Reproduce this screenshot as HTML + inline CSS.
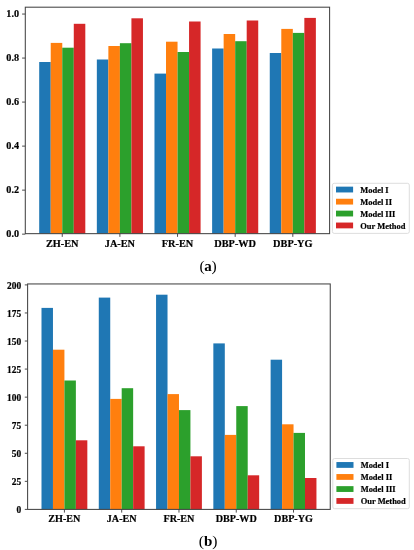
<!DOCTYPE html>
<html lang="en">
<head>
<meta charset="utf-8">
<title>Figure</title>
<style>
html,body{margin:0;padding:0;background:#fff;}
body{width:414px;height:550px;overflow:hidden;font-family:"Liberation Serif",serif;}
svg{display:block;}
svg text{font-family:"Liberation Serif",serif;fill:#000;}
svg text.b{stroke:#000;stroke-width:0.2px;}
</style>
</head>
<body>
<svg width="414" height="550" viewBox="0 0 414 550">
<rect x="0" y="0" width="414" height="550" fill="#ffffff"/>
<g id="chart-a">
<rect x="39.20" y="62.00" width="11.53" height="171.65" fill="#1f77b4"/>
<rect x="50.73" y="42.90" width="11.53" height="190.75" fill="#ff7f0e"/>
<rect x="62.26" y="47.70" width="11.53" height="185.95" fill="#2ca02c"/>
<rect x="73.78" y="23.80" width="11.53" height="209.85" fill="#d62728"/>
<rect x="96.84" y="59.50" width="11.53" height="174.15" fill="#1f77b4"/>
<rect x="108.37" y="46.00" width="11.53" height="187.65" fill="#ff7f0e"/>
<rect x="119.90" y="43.20" width="11.53" height="190.45" fill="#2ca02c"/>
<rect x="131.42" y="18.30" width="11.53" height="215.35" fill="#d62728"/>
<rect x="154.48" y="73.60" width="11.53" height="160.05" fill="#1f77b4"/>
<rect x="166.01" y="41.70" width="11.53" height="191.95" fill="#ff7f0e"/>
<rect x="177.54" y="52.00" width="11.53" height="181.65" fill="#2ca02c"/>
<rect x="189.06" y="21.50" width="11.53" height="212.15" fill="#d62728"/>
<rect x="212.12" y="48.50" width="11.53" height="185.15" fill="#1f77b4"/>
<rect x="223.65" y="34.00" width="11.53" height="199.65" fill="#ff7f0e"/>
<rect x="235.18" y="41.20" width="11.53" height="192.45" fill="#2ca02c"/>
<rect x="246.70" y="20.50" width="11.53" height="213.15" fill="#d62728"/>
<rect x="269.76" y="53.00" width="11.53" height="180.65" fill="#1f77b4"/>
<rect x="281.29" y="28.90" width="11.53" height="204.75" fill="#ff7f0e"/>
<rect x="292.82" y="32.90" width="11.53" height="200.75" fill="#2ca02c"/>
<rect x="304.34" y="17.90" width="11.53" height="215.75" fill="#d62728"/>
<rect x="25.30" y="7.20" width="304.30" height="226.45" fill="none" stroke="#444" stroke-width="1.05"/>
<line x1="22.10" y1="234.15" x2="25.30" y2="234.15" stroke="#4a4a4a" stroke-width="1"/>
<text class="b" transform="translate(19.10 237.30) scale(1.0 1.0)" text-anchor="end" font-size="10.2" font-weight="bold">0.0</text>
<line x1="22.10" y1="190.13" x2="25.30" y2="190.13" stroke="#4a4a4a" stroke-width="1"/>
<text class="b" transform="translate(19.10 193.28) scale(1.0 1.0)" text-anchor="end" font-size="10.2" font-weight="bold">0.2</text>
<line x1="22.10" y1="146.11" x2="25.30" y2="146.11" stroke="#4a4a4a" stroke-width="1"/>
<text class="b" transform="translate(19.10 149.26) scale(1.0 1.0)" text-anchor="end" font-size="10.2" font-weight="bold">0.4</text>
<line x1="22.10" y1="102.09" x2="25.30" y2="102.09" stroke="#4a4a4a" stroke-width="1"/>
<text class="b" transform="translate(19.10 105.24) scale(1.0 1.0)" text-anchor="end" font-size="10.2" font-weight="bold">0.6</text>
<line x1="22.10" y1="58.07" x2="25.30" y2="58.07" stroke="#4a4a4a" stroke-width="1"/>
<text class="b" transform="translate(19.10 61.22) scale(1.0 1.0)" text-anchor="end" font-size="10.2" font-weight="bold">0.8</text>
<line x1="22.10" y1="14.05" x2="25.30" y2="14.05" stroke="#4a4a4a" stroke-width="1"/>
<text class="b" transform="translate(19.10 17.20) scale(1.0 1.0)" text-anchor="end" font-size="10.2" font-weight="bold">1.0</text>
<line x1="62.26" y1="233.65" x2="62.26" y2="236.85" stroke="#3a3a3a" stroke-width="0.9"/>
<text x="62.26" y="247.30" text-anchor="middle" font-size="10.3" font-weight="bold" class="b">ZH-EN</text>
<line x1="119.90" y1="233.65" x2="119.90" y2="236.85" stroke="#3a3a3a" stroke-width="0.9"/>
<text x="119.90" y="247.30" text-anchor="middle" font-size="10.3" font-weight="bold" class="b">JA-EN</text>
<line x1="177.54" y1="233.65" x2="177.54" y2="236.85" stroke="#3a3a3a" stroke-width="0.9"/>
<text x="177.54" y="247.30" text-anchor="middle" font-size="10.3" font-weight="bold" class="b">FR-EN</text>
<line x1="235.18" y1="233.65" x2="235.18" y2="236.85" stroke="#3a3a3a" stroke-width="0.9"/>
<text x="235.18" y="247.30" text-anchor="middle" font-size="10.3" font-weight="bold" class="b">DBP-WD</text>
<line x1="292.82" y1="233.65" x2="292.82" y2="236.85" stroke="#3a3a3a" stroke-width="0.9"/>
<text x="292.82" y="247.30" text-anchor="middle" font-size="10.3" font-weight="bold" class="b">DBP-YG</text>
<rect x="332.40" y="183.30" width="76.90" height="50.10" rx="1.8" ry="1.8" fill="#fff" stroke="#d9d9d9" stroke-width="0.9"/>
<rect x="336.00" y="186.65" width="17.1" height="5.8" fill="#1f77b4"/>
<text class="b" x="360.30" y="192.80" font-size="8.45" font-weight="bold">Model I</text>
<rect x="336.00" y="198.75" width="17.1" height="5.8" fill="#ff7f0e"/>
<text class="b" x="360.30" y="204.90" font-size="8.45" font-weight="bold">Model II</text>
<rect x="336.00" y="210.65" width="17.1" height="5.8" fill="#2ca02c"/>
<text class="b" x="360.30" y="216.80" font-size="8.45" font-weight="bold">Model III</text>
<rect x="336.00" y="222.55" width="17.1" height="5.8" fill="#d62728"/>
<text class="b" x="360.30" y="228.70" font-size="8.45" font-weight="bold">Our Method</text>
</g>
<text x="199.5" y="270.6" font-size="15.6">(</text><text x="204.3" y="271.1" font-size="15" font-weight="bold">a</text><text x="211.5" y="270.6" font-size="15.6">)</text>
<g id="chart-b">
<rect x="41.50" y="307.90" width="11.46" height="201.50" fill="#1f77b4"/>
<rect x="52.96" y="349.70" width="11.46" height="159.70" fill="#ff7f0e"/>
<rect x="64.41" y="380.50" width="11.46" height="128.90" fill="#2ca02c"/>
<rect x="75.87" y="440.30" width="11.46" height="69.10" fill="#d62728"/>
<rect x="98.78" y="297.60" width="11.46" height="211.80" fill="#1f77b4"/>
<rect x="110.24" y="398.90" width="11.46" height="110.50" fill="#ff7f0e"/>
<rect x="121.69" y="388.20" width="11.46" height="121.20" fill="#2ca02c"/>
<rect x="133.15" y="446.30" width="11.46" height="63.10" fill="#d62728"/>
<rect x="156.06" y="294.70" width="11.46" height="214.70" fill="#1f77b4"/>
<rect x="167.52" y="394.10" width="11.46" height="115.30" fill="#ff7f0e"/>
<rect x="178.97" y="410.10" width="11.46" height="99.30" fill="#2ca02c"/>
<rect x="190.43" y="456.30" width="11.46" height="53.10" fill="#d62728"/>
<rect x="213.34" y="343.40" width="11.46" height="166.00" fill="#1f77b4"/>
<rect x="224.80" y="434.90" width="11.46" height="74.50" fill="#ff7f0e"/>
<rect x="236.25" y="406.10" width="11.46" height="103.30" fill="#2ca02c"/>
<rect x="247.71" y="475.30" width="11.46" height="34.10" fill="#d62728"/>
<rect x="270.62" y="359.70" width="11.46" height="149.70" fill="#1f77b4"/>
<rect x="282.08" y="424.30" width="11.46" height="85.10" fill="#ff7f0e"/>
<rect x="293.53" y="432.90" width="11.46" height="76.50" fill="#2ca02c"/>
<rect x="304.99" y="478.00" width="11.46" height="31.40" fill="#d62728"/>
<rect x="27.60" y="283.95" width="302.65" height="225.45" fill="none" stroke="#444" stroke-width="1.05"/>
<line x1="24.80" y1="509.40" x2="27.60" y2="509.40" stroke="#4a4a4a" stroke-width="1"/>
<text class="b" transform="translate(21.20 513.00) scale(0.95 1.05)" text-anchor="end" font-size="9.9" font-weight="bold">0</text>
<line x1="24.80" y1="481.34" x2="27.60" y2="481.34" stroke="#4a4a4a" stroke-width="1"/>
<text class="b" transform="translate(21.20 484.94) scale(0.95 1.05)" text-anchor="end" font-size="9.9" font-weight="bold">25</text>
<line x1="24.80" y1="453.27" x2="27.60" y2="453.27" stroke="#4a4a4a" stroke-width="1"/>
<text class="b" transform="translate(21.20 456.88) scale(0.95 1.05)" text-anchor="end" font-size="9.9" font-weight="bold">50</text>
<line x1="24.80" y1="425.21" x2="27.60" y2="425.21" stroke="#4a4a4a" stroke-width="1"/>
<text class="b" transform="translate(21.20 428.81) scale(0.95 1.05)" text-anchor="end" font-size="9.9" font-weight="bold">75</text>
<line x1="24.80" y1="397.15" x2="27.60" y2="397.15" stroke="#4a4a4a" stroke-width="1"/>
<text class="b" transform="translate(21.20 400.75) scale(0.95 1.05)" text-anchor="end" font-size="9.9" font-weight="bold">100</text>
<line x1="24.80" y1="369.09" x2="27.60" y2="369.09" stroke="#4a4a4a" stroke-width="1"/>
<text class="b" transform="translate(21.20 372.69) scale(0.95 1.05)" text-anchor="end" font-size="9.9" font-weight="bold">125</text>
<line x1="24.80" y1="341.02" x2="27.60" y2="341.02" stroke="#4a4a4a" stroke-width="1"/>
<text class="b" transform="translate(21.20 344.62) scale(0.95 1.05)" text-anchor="end" font-size="9.9" font-weight="bold">150</text>
<line x1="24.80" y1="312.96" x2="27.60" y2="312.96" stroke="#4a4a4a" stroke-width="1"/>
<text class="b" transform="translate(21.20 316.56) scale(0.95 1.05)" text-anchor="end" font-size="9.9" font-weight="bold">175</text>
<line x1="24.80" y1="284.90" x2="27.60" y2="284.90" stroke="#4a4a4a" stroke-width="1"/>
<text class="b" transform="translate(21.20 288.50) scale(0.95 1.05)" text-anchor="end" font-size="9.9" font-weight="bold">200</text>
<line x1="64.41" y1="509.40" x2="64.41" y2="512.60" stroke="#3a3a3a" stroke-width="0.9"/>
<text x="64.41" y="522.40" text-anchor="middle" font-size="10.15" font-weight="bold" class="b">ZH-EN</text>
<line x1="121.69" y1="509.40" x2="121.69" y2="512.60" stroke="#3a3a3a" stroke-width="0.9"/>
<text x="121.69" y="522.40" text-anchor="middle" font-size="10.15" font-weight="bold" class="b">JA-EN</text>
<line x1="178.97" y1="509.40" x2="178.97" y2="512.60" stroke="#3a3a3a" stroke-width="0.9"/>
<text x="178.97" y="522.40" text-anchor="middle" font-size="10.15" font-weight="bold" class="b">FR-EN</text>
<line x1="236.25" y1="509.40" x2="236.25" y2="512.60" stroke="#3a3a3a" stroke-width="0.9"/>
<text x="236.25" y="522.40" text-anchor="middle" font-size="10.15" font-weight="bold" class="b">DBP-WD</text>
<line x1="293.53" y1="509.40" x2="293.53" y2="512.60" stroke="#3a3a3a" stroke-width="0.9"/>
<text x="293.53" y="522.40" text-anchor="middle" font-size="10.15" font-weight="bold" class="b">DBP-YG</text>
<rect x="332.80" y="458.50" width="76.50" height="50.20" rx="1.8" ry="1.8" fill="#fff" stroke="#d9d9d9" stroke-width="0.9"/>
<rect x="336.40" y="462.05" width="17.1" height="5.8" fill="#1f77b4"/>
<text class="b" x="360.70" y="468.20" font-size="8.45" font-weight="bold">Model I</text>
<rect x="336.40" y="474.05" width="17.1" height="5.8" fill="#ff7f0e"/>
<text class="b" x="360.70" y="480.20" font-size="8.45" font-weight="bold">Model II</text>
<rect x="336.40" y="486.15" width="17.1" height="5.8" fill="#2ca02c"/>
<text class="b" x="360.70" y="492.30" font-size="8.45" font-weight="bold">Model III</text>
<rect x="336.40" y="498.05" width="17.1" height="5.8" fill="#d62728"/>
<text class="b" x="360.70" y="504.20" font-size="8.45" font-weight="bold">Our Method</text>
</g>
<text x="198.8" y="545.6" font-size="15.6">(</text><text x="203.9" y="546.1" font-size="15" font-weight="bold">b</text><text x="212.2" y="545.6" font-size="15.6">)</text>
</svg>
</body>
</html>
